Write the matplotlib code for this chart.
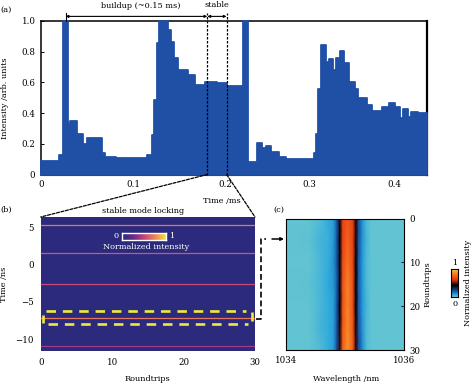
import numpy as np
import matplotlib
matplotlib.use('Agg')
import matplotlib.pyplot as plt
from matplotlib.colors import LinearSegmentedColormap
from matplotlib.patches import ConnectionPatch

plt.rcParams['font.family'] = ['DejaVu Serif']
plt.rcParams['font.size'] = 5.9

# panel (a), envelope of the pulse train: right edge of each step and its level
step_end = [0.020, 0.025, 0.0304, 0.033, 0.0407, 0.048, 0.0528, 0.0691, 0.073, 0.086,
            0.1204, 0.1265, 0.1288, 0.1318, 0.135, 0.145, 0.148, 0.1516, 0.1565, 0.168,
            0.1755, 0.187, 0.2002, 0.2116, 0.2295, 0.2306, 0.2363, 0.2458, 0.2523, 0.2561,
            0.2618, 0.2713, 0.2789, 0.3036, 0.3112, 0.3139, 0.3158, 0.3196, 0.3245, 0.3283,
            0.3333, 0.336, 0.341, 0.3454, 0.3511, 0.3576, 0.3614, 0.372, 0.3777, 0.3891,
            0.3967, 0.4031, 0.4092, 0.4126, 0.4183, 0.4221, 0.4297, 0.44]
step_level = [0.085, 0.125, 1.0, 0.33, 0.35, 0.267, 0.20, 0.235, 0.14, 0.115,
              0.105, 0.125, 0.26, 0.485, 0.855, 1.0, 0.94, 0.865, 0.757, 0.68,
              0.645, 0.583, 0.60, 0.593, 0.578, 0.09, 1.0, 0.083, 0.207, 0.17,
              0.185, 0.148, 0.115, 0.098, 0.104, 0.137, 0.267, 0.56, 0.843, 0.735,
              0.75, 0.68, 0.757, 0.804, 0.724, 0.604, 0.56, 0.50, 0.452, 0.415,
              0.44, 0.463, 0.437, 0.365, 0.424, 0.376, 0.409, 0.398]
a_tick_pos = [0, 0.105, 0.2097, 0.3055, 0.4024]
a_tick_labels = ['0', '0.1', '0.2', '0.3', '0.4']
a_yticks = [0, 0.2, 0.4, 0.6, 0.8, 1.0]
stable_start = 0.1896
stable_end = 0.2116
buildup_start = 0.028

# panel (b), pulses: time position and peak intensity
pulse_time = [5.3, 1.5, -2.6, -7.1, -10.9]
pulse_level = [0.68, 0.56, 0.5, 0.68, 0.4]
b_xticks = [0, 10, 20, 30]
b_yticks = [-10, -5, 0, 5]

# panel (c), spectrum over roundtrips
wavelength = [1034.0, 1034.4, 1034.6, 1034.72, 1034.8, 1034.86, 1034.91, 1034.96, 1035.04,
              1035.13, 1035.18, 1035.23, 1035.3, 1035.36, 1035.44, 1036.0]
roundtrip = [0, 5, 10, 15, 20, 25, 30]
spectrum = [
    [0.0, 0.0, 0.03, 0.07, 0.09, 0.2, 0.44, 0.66, 0.72, 0.66, 0.44, 0.2, 0.1, 0.03, 0.0, 0.0],
    [0.0, 0.01, 0.05, 0.06, 0.10, 0.2, 0.42, 0.66, 0.76, 0.66, 0.44, 0.2, 0.1, 0.04, 0.0, 0.0],
    [0.0, 0.0, 0.04, 0.07, 0.11, 0.2, 0.41, 0.68, 0.80, 0.68, 0.42, 0.19, 0.09, 0.03, 0.0, 0.0],
    [0.0, 0.01, 0.04, 0.08, 0.10, 0.19, 0.40, 0.70, 0.84, 0.70, 0.42, 0.19, 0.09, 0.03, 0.0, 0.0],
    [0.0, 0.0, 0.04, 0.07, 0.09, 0.2, 0.42, 0.70, 0.85, 0.70, 0.42, 0.19, 0.09, 0.04, 0.0, 0.0],
    [0.0, 0.0, 0.05, 0.07, 0.09, 0.21, 0.44, 0.72, 0.86, 0.72, 0.44, 0.2, 0.1, 0.03, 0.0, 0.0],
    [0.0, 0.0, 0.03, 0.07, 0.09, 0.22, 0.46, 0.74, 0.88, 0.74, 0.46, 0.22, 0.11, 0.03, 0.0, 0.0],
]

W, H = 474.0, 386.0


def box(left, top, right, bottom):
    return [left / W, 1 - bottom / H, (right - left) / W, (bottom - top) / H]


def label(px, py, s, **kw):
    fig.text(px / W, 1 - py / H, s, ha='center', va='center', **kw)


fig = plt.figure(figsize=(4.74, 3.86), dpi=100)
blue = '#2050a6'
yellow = '#eeea3c'

# (a)
ax_a = fig.add_axes(box(41, 21, 427, 174.5))
x = [0]
y = [step_level[0]]
start = 0
for end, level in zip(step_end, step_level):
    x += [start, end]
    y += [level, level]
    start = end
ax_a.fill_between(x, 0, y, color=blue, lw=0, clip_on=False, zorder=3)
ax_a.plot(x + [0.44, 0, 0], y + [0, 0, y[0]], color=blue, lw=1.3, clip_on=False, zorder=3)
ax_a.set_xlim(0, 0.44)
ax_a.set_ylim(0, 1)
ax_a.set_xticks(a_tick_pos, a_tick_labels)
ax_a.set_yticks(a_yticks, ['0', '0.2', '0.4', '0.6', '0.8', '1.0'])
ax_a.tick_params(direction='in', length=2.5, width=0.7, pad=4, labelsize=6.2)
ax_a.spines['top'].set_linewidth(1.1)
ax_a.spines['left'].set_linewidth(1.1)
ax_a.spines['right'].set_linewidth(1.6)
for t in [stable_start, stable_end]:
    ax_a.plot([t, t], [0, 1.05], color='k', lw=0.9, ls=(0, (2, 1.2)), clip_on=False, zorder=5)
ax_a.plot([buildup_start, buildup_start], [1.0, 1.05], color='k', lw=0.8, clip_on=False, zorder=5)
head = dict(arrowstyle='<|-|>,head_width=0.12,head_length=0.25', color='k', lw=0.8,
            shrinkA=0, shrinkB=0)
ax_a.annotate('', xy=(stable_start, 1.03), xytext=(buildup_start, 1.03), arrowprops=head,
              annotation_clip=False)
ax_a.annotate('', xy=(stable_end, 1.03), xytext=(stable_start, 1.03), arrowprops=head,
              annotation_clip=False)
label(141, 6, 'buildup (~0.15 ms)')
label(217, 5, 'stable')
label(6, 10, '(a)')
label(222, 201.5, 'Time /ms')
label(5, 98, 'Intensity /arb. units', rotation=90)

# (b)
ax_b = fig.add_axes(box(40.7, 217, 255, 351))
map_b = LinearSegmentedColormap.from_list(
    'pulse', ['#2b2a7c', '#6a2a8c', '#c8457a', '#ee8a50', '#f6e83c'])
ax_b.set_facecolor(map_b(0.0))
for t, level in zip(pulse_time, pulse_level):
    ax_b.axhline(t, color=map_b(level), lw=0.9)
ax_b.set_xlim(0, 30)
ax_b.set_ylim(-11.57, 6.38)
ax_b.set_xticks(b_xticks)
ax_b.set_yticks(b_yticks, ['\u221210', '\u22125', '0', '5'])
ax_b.tick_params(direction='in', length=0, pad=5, labelsize=6.2)
for s in ax_b.spines.values():
    s.set_visible(False)
# yellow selection box, the sides are single dashes
sel = dict(color=yellow, lw=1.9, zorder=4)
ax_b.plot([0.7, 28.8], [-6.2, -6.2], ls=(0, (3.6, 2.6)), **sel)
ax_b.plot([1.0, 29.0], [-7.95, -7.95], ls=(0, (3.6, 2.6)), **sel)
ax_b.plot([0.28, 0.28], [-6.74, -7.86], solid_capstyle='butt', **sel)
ax_b.plot([29.6, 29.6], [-6.38, -7.5], solid_capstyle='butt', **sel)
label(143, 211, 'stable mode locking')
label(6, 209.5, '(b)')
label(147, 379, 'Roundtrips')
label(4, 284, 'Time /ns', rotation=90)

cax_b = fig.add_axes(box(121.7, 233, 166, 240))
cax_b.imshow(np.linspace(0, 1, 100)[None, :], cmap=map_b, aspect='auto', extent=(0, 1, 0, 1))
cax_b.set_xticks([])
cax_b.set_yticks([])
for s in cax_b.spines.values():
    s.set_color('w')
    s.set_linewidth(1.0)
label(116, 236.5, '0', color='w')
label(172, 236.5, '1', color='w')
label(146, 247, 'Normalized intensity', color='w')

# (c)
ax_c = fig.add_axes(box(286, 218.7, 404.3, 350))
map_c = LinearSegmentedColormap.from_list(
    'spectrum', [(0, '#62c4d2'), (0.08, '#2aa6de'), (0.2, '#1a55a5'), (0.42, '#000000'),
                 (0.6, '#e03010'), (0.78, '#f56a20'), (0.92, '#faa030'), (1, '#f8e838')])
ax_c.pcolormesh(wavelength, roundtrip, np.array(spectrum), cmap=map_c, vmin=0, vmax=1,
                shading='gouraud')
ax_c.set_xlim(1034, 1036)
ax_c.set_ylim(30, 0)
ax_c.set_xticks([1034, 1036], ['1034', '1036'])
ax_c.set_yticks([0, 10, 20, 30])
ax_c.yaxis.tick_right()
ax_c.tick_params(direction='in', length=2, width=0.6, pad=4, labelsize=6.2)
label(346, 379, 'Wavelength /nm')
label(427, 284, 'Roundtrips', rotation=90)
label(279, 209.5, '(c)')

cax_c = fig.add_axes(box(451.3, 269, 458.3, 297))
cax_c.imshow(np.linspace(1, 0, 100)[:, None], cmap=map_c, aspect='auto')
cax_c.set_xticks([])
cax_c.set_yticks([])
label(455, 263, '1')
label(455, 304, '0')
label(468, 283, 'Normalized intensity', rotation=90)

# connectors between the panels
dash = dict(color='k', lw=0.9, ls=(0, (2.5, 1.2)), zorder=6)
fig.add_artist(ConnectionPatch((stable_start, 0), (0, 6.38), 'data', 'data',
                               axesA=ax_a, axesB=ax_b, **dash))
fig.add_artist(ConnectionPatch((stable_end, 0), (30, 6.38), 'data', 'data',
                               axesA=ax_a, axesB=ax_b, **dash))
bx = [256 / W, 261 / W, 261 / W, 266 / W]
by = [1 - 319 / H, 1 - 319 / H, 1 - 239 / H, 1 - 239 / H]
fig.add_artist(plt.Line2D(bx, by, color='k', lw=1.2, ls=(0, (3.5, 1.8))))
ax_c.annotate('', xy=(284 / W, 1 - 239 / H), xytext=(272 / W, 1 - 239 / H),
              xycoords='figure fraction', textcoords='figure fraction',
              arrowprops=dict(arrowstyle='-|>,head_width=0.15,head_length=0.3', color='k', lw=1.1,
                              shrinkA=0, shrinkB=0), annotation_clip=False)

fig.savefig('out.png', dpi=100)
